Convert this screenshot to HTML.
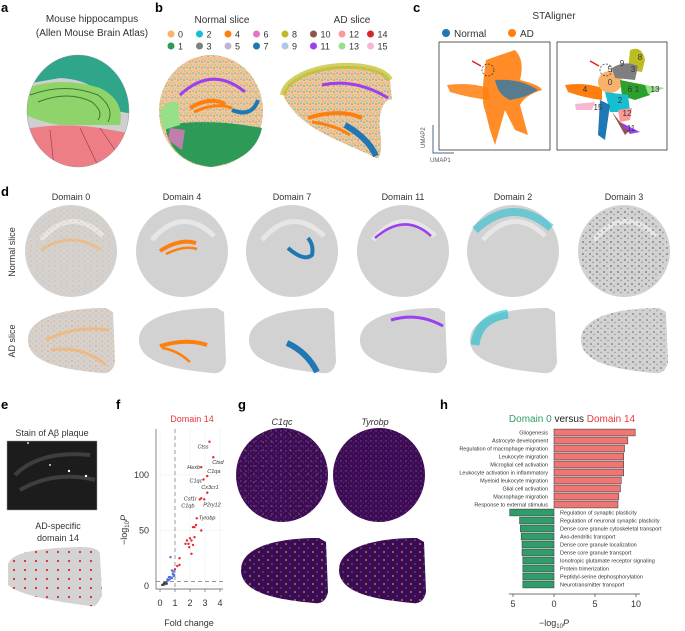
<!DOCTYPE html>
<html><head><meta charset="utf-8"><style>
html,body{margin:0;padding:0;background:#fff;}
svg{display:block;font-family:"Liberation Sans",sans-serif;}
</style></head><body>
<svg id="fig" width="685" height="631" viewBox="0 0 685 631">
<defs>
<pattern id="speckW" width="5" height="5" patternUnits="userSpaceOnUse"><circle cx="1" cy="1" r="0.7" fill="#fff" opacity="0.8"/><circle cx="3.5" cy="3" r="0.5" fill="#fff" opacity="0.6"/></pattern>
<pattern id="speckO" width="6" height="5" patternUnits="userSpaceOnUse"><circle cx="1" cy="1" r="0.9" fill="#f7a75a"/><circle cx="4" cy="3.5" r="0.7" fill="#f7a75a" opacity="0.7"/></pattern>
<pattern id="speckG" width="7" height="6" patternUnits="userSpaceOnUse"><circle cx="2" cy="2" r="0.9" fill="#555"/><circle cx="5" cy="4.5" r="0.7" fill="#777"/></pattern>
<pattern id="speckY" width="9" height="8" patternUnits="userSpaceOnUse"><circle cx="2" cy="2" r="0.8" fill="#e5d51a"/><circle cx="6" cy="6" r="0.7" fill="#2a9a8a"/></pattern>
<pattern id="speckR" width="11" height="9" patternUnits="userSpaceOnUse"><circle cx="3" cy="3" r="1.1" fill="#e0282a"/></pattern>
<pattern id="speckMix" width="6" height="6" patternUnits="userSpaceOnUse"><circle cx="1" cy="1" r="0.8" fill="#17becf"/><circle cx="4" cy="2" r="0.8" fill="#7f7f7f"/><circle cx="2" cy="4.5" r="0.8" fill="#c5b0d5"/><circle cx="5" cy="5" r="0.8" fill="#bcbd22"/></pattern>
<clipPath id="clipA"><ellipse cx="78" cy="111" rx="51" ry="56"/></clipPath>
<path id="adShape" d="M-43,340 C-43,318 -10,308 35,308 L42,312 L44,362 C42,372 36,374 30,373 C0,370 -43,365 -43,340 Z"/>
</defs>

<g font-weight="bold" font-size="13" fill="#000">
<text x="1" y="12">a</text>
<text x="155" y="12">b</text>
<text x="413" y="12">c</text>
<text x="1" y="196">d</text>
<text x="1" y="409">e</text>
<text x="116" y="409">f</text>
<text x="238" y="409">g</text>
<text x="440" y="409">h</text>
</g>

<g>
<text x="92" y="22" font-size="10" text-anchor="middle" fill="#333">Mouse hippocampus</text>
<text x="92" y="36" font-size="10" text-anchor="middle" fill="#333">(Allen Mouse Brain Atlas)</text>
<g clip-path="url(#clipA)">
<rect x="20" y="50" width="120" height="125" fill="#cfcfcf"/>
<path d="M20,50 L140,50 L140,115 L110,110 Q100,80 60,78 L20,85 Z" fill="#2fa58a"/>
<path d="M20,90 Q60,75 100,88 Q125,100 120,125 L60,125 Q30,120 20,110 Z" fill="#8fd46a"/>
<path d="M30,95 Q65,82 98,95 Q115,108 108,122" fill="none" stroke="#3b7a2a" stroke-width="1"/>
<path d="M38,102 Q68,90 92,102 Q104,112 98,120" fill="none" stroke="#3b7a2a" stroke-width="1"/>
<path d="M20,130 Q60,122 100,128 L140,135 L140,175 L20,175 Z" fill="#ee7e86"/>
<path d="M50,130 L55,175 M80,128 L100,170 M100,128 L115,150" stroke="#8a3a40" stroke-width="0.6" fill="none"/>
</g>
<ellipse cx="78" cy="111" rx="51" ry="56" fill="none" stroke="#999" stroke-width="0.5"/>
</g>

<g>
<text x="222" y="23" font-size="10" text-anchor="middle" fill="#333">Normal slice</text>
<text x="352" y="23" font-size="10" text-anchor="middle" fill="#333">AD slice</text>
<g id="legendB" font-size="9" fill="#333"></g>
<ellipse cx="211" cy="111" rx="52" ry="56" fill="#f2c79a"/>
<ellipse cx="211" cy="111" rx="52" ry="56" fill="url(#speckMix)" opacity="0.7"/>
<path d="M165,125 Q211,118 262,128 Q255,160 211,167 Q170,162 165,125Z" fill="#2e9a57"/>
<path d="M160,112 Q165,100 178,102 L180,125 L163,130Z" fill="#98df8a"/>
<path d="M170,128 L185,130 L182,150 L168,140Z" fill="#e377c2" opacity="0.8"/>
<path d="M180,95 Q212,65 245,92" fill="none" stroke="#9b3ff0" stroke-width="3"/>
<path d="M190,108 Q210,96 225,104" fill="none" stroke="#ff7f0e" stroke-width="4"/>
<path d="M194,112 Q215,102 232,108" fill="none" stroke="#ff7f0e" stroke-width="3"/>
<path d="M232,110 Q252,118 258,100" fill="none" stroke="#1f77b4" stroke-width="4"/>
<path d="M283,95 C285,80 310,68 340,66 C365,65 385,70 390,80 L392,100 C385,98 378,110 380,130 C383,150 380,160 376,158 C340,140 300,130 283,95Z" fill="#f2c79a"/>
<path d="M283,95 C285,80 310,68 340,66 C365,65 385,70 390,80 L392,100 C385,98 378,110 380,130 C383,150 380,160 376,158 C340,140 300,130 283,95Z" fill="url(#speckMix)" opacity="0.8"/>
<path d="M283,95 C285,80 310,68 340,66 C365,65 385,70 390,80" fill="none" stroke="#bcbd22" stroke-width="6" opacity="0.7"/>
<path d="M322,85 Q355,78 388,98" fill="none" stroke="#9b3ff0" stroke-width="3"/>
<path d="M308,118 Q340,108 362,118" fill="none" stroke="#ff7f0e" stroke-width="4"/>
<path d="M312,122 Q335,125 350,135" fill="none" stroke="#ff7f0e" stroke-width="3"/>
<path d="M345,125 Q368,138 376,156" fill="none" stroke="#1f77b4" stroke-width="6"/>
</g>

<g>
<text x="554" y="19" font-size="10" text-anchor="middle" fill="#333">STAligner</text>
<circle cx="446" cy="33" r="4" fill="#1f77b4"/>
<text x="454" y="37" font-size="10" fill="#333">Normal</text>
<circle cx="512" cy="33" r="4" fill="#ff7f0e"/>
<text x="520" y="37" font-size="10" fill="#333">AD</text>
<rect x="439" y="42" width="111" height="108" fill="none" stroke="#333" stroke-width="0.8"/>
<rect x="557" y="42" width="110" height="108" fill="none" stroke="#333" stroke-width="0.8"/>
<path d="M447,85 Q470,82 488,88 L490,100 Q470,98 450,92Z" fill="#ff7f0e" opacity="0.85"/>
<path d="M486,60 Q500,55 515,50 Q525,60 520,80 Q540,85 542,90 Q525,95 520,105 L528,135 L515,130 L505,110 L495,145 L490,130 L485,110 Q480,100 486,60Z" fill="#ff7f0e" opacity="0.9"/>
<path d="M495,80 Q520,78 538,90 Q525,98 510,100 Q498,95 495,80Z" fill="#1f77b4" opacity="0.75"/>
<circle cx="488" cy="70" r="6" fill="none" stroke="#333" stroke-dasharray="2,1.5" stroke-width="0.7"/>
<path d="M472,61 L481,66" stroke="#e02020" stroke-width="1.3"/>
<path d="M565,85 Q585,82 602,88 L602,100 Q585,98 568,92Z" fill="#ff7f0e"/>
<ellipse cx="610" cy="82" rx="12" ry="11" fill="#f9b26b"/>
<path d="M630,50 Q642,45 645,60 L642,72 L628,70Z" fill="#bcbd22"/>
<path d="M612,68 Q625,60 638,66 L635,80 L615,78Z" fill="#7f7f7f"/>
<path d="M620,80 L645,85 L650,95 L635,100 L622,96Z" fill="#2ca02c"/>
<path d="M645,85 L665,88 L648,94Z" fill="#98df8a"/>
<path d="M605,92 L628,95 L630,112 L610,112Z" fill="#17becf"/>
<path d="M618,110 L632,108 L630,120 L620,122Z" fill="#ff9896"/>
<path d="M612,112 L620,122 L630,130 L625,135Z" fill="#8c564b"/>
<path d="M620,122 L640,132 L630,134Z" fill="#9b3ff0"/>
<path d="M600,100 L610,105 L605,140 L598,135Z" fill="#1f77b4"/>
<path d="M575,104 L595,102 L592,110 L576,110Z" fill="#f7b6d2"/>
<circle cx="606" cy="70" r="6" fill="none" stroke="#333" stroke-dasharray="2,1.5" stroke-width="0.7"/>
<path d="M590,61 L599,66" stroke="#e02020" stroke-width="1.3"/>
<g font-size="8" fill="#333" text-anchor="middle">
<text x="610" y="85">0</text><text x="585" y="92">4</text><text x="640" y="60">8</text><text x="622" y="66">9</text><text x="633" y="72">3</text>
<text x="630" y="92">6</text><text x="637" y="92">1</text><text x="655" y="92">13</text><text x="620" y="103">2</text><text x="627" y="116">12</text><text x="631" y="131">11</text><text x="598" y="110">15</text><text x="610" y="72">5</text>
</g>
<path d="M433,125 L433,153 L454,153" fill="none" stroke="#4a6a8a" stroke-width="1"/>
<text x="425" y="148" font-size="6" fill="#555" transform="rotate(-90 425 148)">UMAP2</text>
<text x="430" y="162" font-size="6" fill="#555">UMAP1</text>
</g>

<g id="panelD">
<text x="15" y="252" font-size="9" fill="#333" text-anchor="middle" transform="rotate(-90 15 252)">Normal slice</text>
<text x="15" y="341" font-size="9" fill="#333" text-anchor="middle" transform="rotate(-90 15 341)">AD slice</text>
</g>

<g>
<text x="52" y="436" font-size="9" text-anchor="middle" fill="#333">Stain of Aβ plaque</text>
<rect x="7" y="441" width="90" height="69" fill="#1c1c1c" stroke="#999" stroke-width="0.5"/>
<path d="M15,475 Q40,450 90,455 M20,490 Q55,470 95,480" fill="none" stroke="#555" stroke-width="4" opacity="0.6"/>
<circle cx="69" cy="471" r="1.2" fill="#fff"/><circle cx="86" cy="476" r="1.2" fill="#fff"/><circle cx="50" cy="465" r="1" fill="#ddd"/><circle cx="28" cy="443" r="1" fill="#ddd"/>
<text x="58" y="529" font-size="9" text-anchor="middle" fill="#333">AD-specific</text>
<text x="58" y="541" font-size="9" text-anchor="middle" fill="#333">domain 14</text>
<path d="M8,565 C10,552 40,548 80,547 C95,547 100,550 100,555 L102,595 C98,605 95,607 90,606 C60,602 20,596 8,585Z" fill="#d3d3d3"/>
<path d="M8,565 C10,552 40,548 80,547 C95,547 100,550 100,555 L102,595 C98,605 95,607 90,606 C60,602 20,596 8,585Z" fill="url(#speckR)"/>
</g>

<g id="panelF">
<text x="192" y="422" font-size="9" text-anchor="middle" fill="#e8383d">Domain 14</text>
<text x="189" y="626" font-size="9" text-anchor="middle" fill="#333">Fold change</text>
<text x="127" y="530" font-size="9" text-anchor="middle" fill="#333" transform="rotate(-90 127 530)">−log<tspan font-size="6" dy="2">10</tspan><tspan dy="-2" font-style="italic">P</tspan></text>
</g>

<g>
<text x="282" y="425" font-size="9" font-style="italic" text-anchor="middle" fill="#333">C1qc</text>
<text x="375" y="425" font-size="9" font-style="italic" text-anchor="middle" fill="#333">Tyrobp</text>
<g>
<ellipse cx="282" cy="475" rx="46" ry="47" fill="#3d0a55"/>
<ellipse cx="282" cy="475" rx="46" ry="47" fill="url(#speckW)" opacity="0.35"/>
<ellipse cx="282" cy="475" rx="46" ry="47" fill="url(#speckY)" opacity="0.4"/>
</g>
<g>
<ellipse cx="379" cy="475" rx="46" ry="47" fill="#3d0a55"/>
<ellipse cx="379" cy="475" rx="46" ry="47" fill="url(#speckW)" opacity="0.35"/>
</g>
<g transform="translate(284,0)">
<use href="#adShape" fill="#3d0a55" transform="translate(0,230)"/>
<use href="#adShape" fill="url(#speckY)" transform="translate(0,230)"/>
</g>
<g transform="translate(382,0)">
<use href="#adShape" fill="#3d0a55" transform="translate(0,230)"/>
<use href="#adShape" fill="url(#speckY)" transform="translate(0,230)"/>
</g>
</g>

<g id="panelH">
<text x="572" y="422" font-size="10" text-anchor="middle"><tspan fill="#2e9d6a">Domain 0</tspan><tspan fill="#222"> versus </tspan><tspan fill="#e8383d">Domain 14</tspan></text>
<text x="554" y="626" font-size="9" text-anchor="middle" fill="#333">−log<tspan font-size="6" dy="2">10</tspan><tspan dy="-2" font-style="italic">P</tspan></text>
</g>
</svg>
<script>
var NS="http://www.w3.org/2000/svg";
function mk(tag,attrs,parent){var e=document.createElementNS(NS,tag);for(var k in attrs)e.setAttribute(k,attrs[k]);parent.appendChild(e);return e;}

var clusterIds=["0","1","2","3","4","5","6","7","8","9","10","11","12","13","14","15"];
var clusterColors=["#f9b26b","#2e9a57","#17becf","#7f7f7f","#ff7f0e","#c5b0d5","#e377c2","#1f77b4","#bcbd22","#aec7e8","#8c564b","#9b3ff0","#ff9896","#98df8a","#d62728","#f7b6d2"];
var lg=document.getElementById("legendB");
for(var i=0;i<clusterIds.length;i++){
  var col=Math.floor(i/2),row=i%2;
  var x=171+col*28.5,y=34+row*12;
  var c=mk("circle",{cx:x,cy:y,r:3.5,fill:clusterColors[i]},lg);
  
  
  var t=mk("text",{x:x+7,y:y+3.5},lg);t.textContent=clusterIds[i];
  
  
}

var domainNames=["Domain 0","Domain 4","Domain 7","Domain 11","Domain 2","Domain 3"];
var colX=[71,182,292,403,513,624];
var pd=document.getElementById("panelD");
for(var j=0;j<domainNames.length;j++){
  var cx=colX[j];
  var t=mk("text",{x:cx,y:200,"font-size":9,"text-anchor":"middle",fill:"#333"},pd);t.textContent=domainNames[j];
  
  
  var g=mk("g",{},pd);
  
  
  mk("ellipse",{cx:cx,cy:251,rx:46,ry:46,fill:"#d2d2d2"},g);
  mk("path",{d:"M"+(cx-30)+",240 Q"+cx+",205 "+(cx+32)+",236",fill:"none",stroke:"#eeeeee","stroke-width":5,opacity:0.7},g);
  var ga=mk("g",{transform:"translate("+cx+",0)"},pd);
  
  
  mk("use",{href:"#adShape",fill:"#d2d2d2"},ga);
  var dn=domainNames[j];
  if(dn==="Domain 0"){
    mk("ellipse",{cx:cx,cy:251,rx:44,ry:44,fill:"url(#speckO)",opacity:0.5},g);
    mk("path",{d:"M"+(cx-30)+",250 Q"+cx+",230 "+(cx+30)+",250",fill:"none",stroke:"#f7b06a","stroke-width":3,opacity:0.6},g);
    mk("use",{href:"#adShape",fill:"url(#speckO)",opacity:0.8},ga);
    mk("path",{d:"M-25,340 Q5,325 38,330 M-20,350 Q10,345 35,365",fill:"none",stroke:"#f7b06a","stroke-width":3,opacity:0.7},ga);
  }else if(dn==="Domain 4"){
    mk("path",{d:"M"+(cx-22)+",251 Q"+(cx-2)+",238 "+(cx+14)+",243",fill:"none",stroke:"#ff7f0e","stroke-width":4},g);
    mk("path",{d:"M"+(cx-16)+",254 Q"+(cx+2)+",245 "+(cx+15)+",249",fill:"none",stroke:"#ff7f0e","stroke-width":2.5},g);
    mk("path",{d:"M-22,346 Q5,338 25,345",fill:"none",stroke:"#ff7f0e","stroke-width":4},ga);
    mk("path",{d:"M-20,348 Q-5,350 8,362",fill:"none",stroke:"#ff7f0e","stroke-width":2.5},ga);
  }else if(dn==="Domain 7"){
    mk("path",{d:"M"+(cx-4)+",248 Q"+(cx+12)+",262 "+(cx+20)+",255 Q"+(cx+22)+",245 "+(cx+16)+",238",fill:"none",stroke:"#1f77b4","stroke-width":4},g);
    mk("path",{d:"M-5,343 Q15,352 25,372",fill:"none",stroke:"#1f77b4","stroke-width":6},ga);
  }else if(dn==="Domain 11"){
    mk("path",{d:"M"+(cx-28)+",238 Q"+(cx+2)+",212 "+(cx+28)+",236",fill:"none",stroke:"#9b3ff0","stroke-width":2.5},g);
    mk("path",{d:"M-12,320 Q15,312 40,326",fill:"none",stroke:"#9b3ff0","stroke-width":3},ga);
  }else if(dn==="Domain 2"){
    mk("path",{d:"M"+(cx-38)+",230 Q"+cx+",195 "+(cx+38)+",228",fill:"none",stroke:"#17becf","stroke-width":8,opacity:0.55},g);
    mk("path",{d:"M-38,345 Q-35,318 -5,314",fill:"none",stroke:"#17becf","stroke-width":9,opacity:0.6},ga);
  }else{
    mk("ellipse",{cx:cx,cy:251,rx:44,ry:44,fill:"url(#speckG)",opacity:0.8},g);
    mk("use",{href:"#adShape",fill:"url(#speckG)",opacity:0.7},ga);
  }
}

var fcRed=[3.3,3.55,2.75,3.15,2.9,3.15,2.65,2.75,2.95,2.45,2.3,2.2,2.4,2.75,2.3,2.0,1.8,2.1,1.9,2.2,1.7,2.1,1.95,1.3,1.15,1.3,1.0];
var pRed=[130,116,107,99,96,84,78,79,78,61,53,53,55,50,44,43,41,41,38,37,38,29,35,25,18,19,15];
var fcBlue=[0.7,0.8,0.9,0.85,0.6,0.7,0.95,0.5,0.55,0.8,0.65,0.9,0.45];
var pBlue=[26,14,13,11,8,8,10,6,5,7,6,9,4];
var fcGray=[0.2,0.25,0.3,0.35,0.4,0.3,0.15,0.45];
var pGray=[1,2,1.5,2.5,3,3,1,2];
var geneLabels=["Ctss","Ctsd","Hexb","C1qa","C1qc","Cx3cr1","Csf1r","C1qb","P2ry12","Tyrobp"];
var xTicks=[0,1,2,3,4];
var yTicks=[0,50,100];
function fx(v){return 160+v*15;}
function fy(v){return 586-v*1.11;}
var pf=document.getElementById("panelF");
for(var i=0;i<xTicks.length;i++){
  mk("line",{x1:fx(xTicks[i]),x2:fx(xTicks[i]),y1:429,y2:586,stroke:"#eee","stroke-width":0.6},pf);
  var t=mk("text",{x:fx(xTicks[i]),y:606,"font-size":9,"text-anchor":"middle",fill:"#333"},pf);t.textContent=xTicks[i];
  
  
  mk("line",{x1:fx(xTicks[i]),x2:fx(xTicks[i]),y1:589,y2:592,stroke:"#555","stroke-width":0.6},pf);
}
for(var i=0;i<yTicks.length;i++){
  mk("line",{x1:157,x2:223,y1:fy(yTicks[i]),y2:fy(yTicks[i]),stroke:"#eee","stroke-width":0.6},pf);
  var t=mk("text",{x:149,y:fy(yTicks[i])+3,"font-size":9,"text-anchor":"end",fill:"#333"},pf);t.textContent=yTicks[i];
  
  
}
mk("path",{d:"M156,429 L156,589 L223,589",fill:"none",stroke:"#555","stroke-width":0.7},pf);
mk("line",{x1:fx(1),x2:fx(1),y1:429,y2:589,stroke:"#888","stroke-dasharray":"4,3","stroke-width":0.8},pf);
mk("line",{x1:156,x2:223,y1:fy(4),y2:fy(4),stroke:"#888","stroke-dasharray":"4,3","stroke-width":0.8},pf);
function pts(fc,p,col,nm){for(var i=0;i<fc.length;i++){var c=mk("circle",{cx:fx(fc[i]),cy:fy(p[i]),r:1.2,fill:col},pf);
  
  }}
pts(fcGray,pGray,"#444","point-ns");
pts(fcBlue,pBlue,"#4a74d8","point-low");
pts(fcRed,pRed,"#e8262a","point-sig");
var lOff=[[-12,7],[-1,7],[-14,2],[0,-3],[-14,3],[-6,-4],[-16,1],[-20,9],[-1,7],[2,1]];
for(var i=0;i<geneLabels.length;i++){
  var t=mk("text",{x:fx(fcRed[i])+lOff[i][0],y:fy(pRed[i])+lOff[i][1],"font-size":5.5,"font-style":"italic",fill:"#333"},pf);t.textContent=geneLabels[i];
  
  
}

var upTerms=["Gliogenesis","Astrocyte development","Regulation of macrophage migration","Leukocyte migration","Microglial cell activation","Leukocyte activation in inflammatory","Myeloid leukocyte migration","Glial cell activation","Macrophage migration","Response to external stimulus"];
var upVals=[9.9,9.0,8.6,8.5,8.5,8.5,8.2,8.1,7.9,7.8];
var downTerms=["Regulation of synaptic plasticity","Regulation of neuronal synaptic plasticity","Dense core granule cytoskeletal transport","Axo-dendritic transport","Dense core granule localization","Dense core granule transport","Ionotropic glutamate receptor signaling","Protein trimerization","Peptidyl-serine dephosphorylation","Neurotransmitter transport"];
var downVals=[5.4,4.2,4.1,4.0,3.9,3.9,3.8,3.8,3.8,3.8];
var hTicks=[-5,0,5,10];
var hTickText=["5","0","5","10"];
function hx(v){return 554+v*8.2;}
function hy(i){return 432.5+i*8;}
var ph=document.getElementById("panelH");
for(var i=0;i<upTerms.length;i++){
  var r=mk("rect",{x:hx(0),y:hy(i)-3.4,width:hx(upVals[i])-hx(0),height:6.8,fill:"#f07674",stroke:"#444","stroke-width":0.6},ph);
  
  
  var t=mk("text",{x:548,y:hy(i)+2,"font-size":5.5,"text-anchor":"end",fill:"#333"},ph);t.textContent=upTerms[i];
  
  
}
for(var i=0;i<downTerms.length;i++){
  var k=i+10;
  var r=mk("rect",{x:hx(-downVals[i]),y:hy(k)-3.4,width:hx(0)-hx(-downVals[i]),height:6.8,fill:"#2e9d6a",stroke:"#444","stroke-width":0.6},ph);
  
  
  var t=mk("text",{x:560,y:hy(k)+2,"font-size":5.5,fill:"#333"},ph);t.textContent=downTerms[i];
  
  
}
mk("line",{x1:hx(-5.5),x2:hx(10.5),y1:594,y2:594,stroke:"#444","stroke-width":0.7},ph);
for(var i=0;i<hTicks.length;i++){
  mk("line",{x1:hx(hTicks[i]),x2:hx(hTicks[i]),y1:594,y2:597,stroke:"#444","stroke-width":0.7},ph);
  var t=mk("text",{x:hx(hTicks[i]),y:607,"font-size":9,"text-anchor":"middle",fill:"#333"},ph);t.textContent=hTickText[i];
  
  
}
</script>
</body></html>
